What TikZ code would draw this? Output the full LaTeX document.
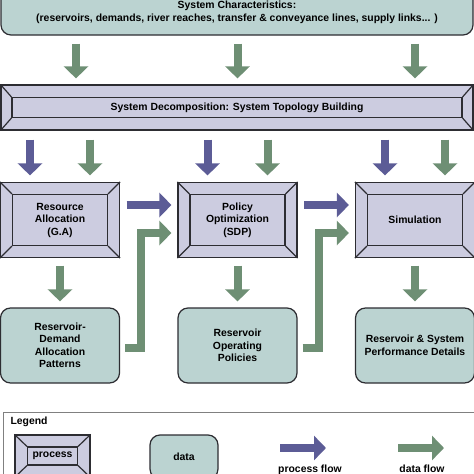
\documentclass[tikz,border=0pt]{standalone}
\usepackage{fontspec}
\setmainfont{Liberation Sans}
\usetikzlibrary{arrows.meta}
\definecolor{procfill}{RGB}{204,204,224}
\definecolor{datafill}{RGB}{187,211,209}
\definecolor{procarrow}{RGB}{92,92,150}
\definecolor{dataarrow}{RGB}{110,143,116}
\definecolor{edge}{RGB}{45,45,50}
\begin{document}
\begin{tikzpicture}[x=1pt, y=-1pt,
  font=\fontsize{10.4}{12.5}\selectfont\bfseries,
  outer/.style = {draw=edge, line width=1.2pt, fill=procfill, inner sep=0pt, minimum width=119pt, minimum height=75pt},
  inner/.style = {draw=edge, line width=1.2pt, fill=procfill, inner sep=0pt, align=center, minimum width=95pt, minimum height=51pt},
  data/.style = {draw=edge, line width=1.2pt, fill=datafill, rounded corners=10pt, inner sep=0pt, align=center, minimum width=119pt, minimum height=75pt},
  bevel/.style = {draw=edge, line width=1.2pt},
  pflow/.style = {draw=procarrow, line width=8pt, -{Triangle[width=24pt, length=12pt]}},
  dflow/.style = {draw=dataarrow, line width=8pt, -{Triangle[width=24pt, length=12pt]}}]
\useasboundingbox (0,0) rectangle (474,474);

% system characteristics
\node[data, minimum width=472pt, minimum height=46pt, font=\fontsize{10.4}{13}\selectfont\bfseries] (syschar) at (237,12)
  {System Characteristics:\\(reservoirs, demands, river reaches, transfer \& conveyance lines, supply links... )};

% decomposition bar
\node[outer, minimum width=472pt, minimum height=45pt] (decomp) at (237,107.5) {};
\node[inner, minimum width=450pt, minimum height=20pt] (decomp-in) at (decomp) {System Decomposition: System Topology Building};

% process boxes
\node[outer] (alloc) at (60,220) {};
\node[inner] (alloc-in) at (alloc) {Resource\\Allocation\\(G.A)};
\node[outer] (optim) at (237.5,220) {};
\node[inner] (optim-in) at (optim) {Policy\\Optimization\\(SDP)};
\node[outer] (sim) at (415,220) {};
\node[inner] (sim-in) at (sim) {Simulation};

% data boxes
\node[data] (allocres) at (60,345.5) {Reservoir-\\Demand\\Allocation\\Patterns};
\node[data] (optimres) at (237.5,345.5) {Reservoir\\Operating\\Policies};
\node[data] (simres) at (415,345.5) {Reservoir \& System\\Performance Details};

\foreach \n in {decomp,alloc,optim,sim}
  \foreach \c in {north west,north east,south west,south east}
    \draw[bevel] (\n.\c) -- (\n-in.\c);

% flows
\draw[dflow, shorten <=8pt, shorten >=6pt] ([xshift=16pt]syschar.south -| alloc) -- ([xshift=16pt]decomp.north -| alloc);
\draw[dflow, shorten <=8pt, shorten >=6pt] (syschar.south -| optim) -- (decomp.north -| optim);
\draw[dflow, shorten <=8pt, shorten >=6pt] (syschar.south -| sim) -- (decomp.north -| sim);
\foreach \n in {alloc,optim,sim}{
  \draw[pflow, shorten <=9pt, shorten >=6.5pt] ([xshift=-30pt]decomp.south -| \n) -- ([xshift=-30pt]\n.north);
  \draw[dflow, shorten <=9pt, shorten >=6.5pt] ([xshift=30pt]decomp.south -| \n) -- ([xshift=30pt]\n.north);
}
\draw[pflow, shorten <=6.5pt, shorten >=6pt] ([yshift=15pt]alloc.east) -- ([yshift=15pt]optim.west);
\draw[pflow, shorten <=6.5pt, shorten >=6pt] ([yshift=15pt]optim.east) -- ([yshift=15pt]sim.west);
\draw[dflow, shorten <=7.5pt, shorten >=6pt] (alloc.south) -- (allocres.north);
\draw[dflow, shorten <=7.5pt, shorten >=6pt] (optim.south) -- (optimres.north);
\draw[dflow, shorten <=7.5pt, shorten >=6pt] (sim.south) -- (simres.north);
\draw[dflow, shorten <=5pt, shorten >=6pt] ([yshift=-2.5pt]allocres.east) -- ++(21,0) |- ([yshift=-13pt]optim.west);
\draw[dflow, shorten <=5pt, shorten >=6pt] ([yshift=-2.5pt]optimres.east) -- ++(21,0) |- ([yshift=-13pt]sim.west);

% legend
\draw[gray, line width=1pt] (3,485) -- (3,412) -- (480,412);
\node[anchor=west] (legend) at (7,422) {Legend};
\node[outer, minimum width=75pt, minimum height=42pt] (lproc) at (52.5,456) {};
\node[inner, minimum width=50pt, minimum height=18pt] (lproc-in) at (lproc) {process};
\foreach \c in {north west,north east,south west,south east}
  \draw[bevel] (lproc.\c) -- (lproc-in.\c);
\node[data, minimum width=68pt, minimum height=44pt] (ldata) at (184,457) {data};
\node[anchor=base] (lpflow) at (310,472) {process flow};
\node[anchor=base] (ldflow) at (422,472) {data flow};
\coordinate (lp-a) at (280,448);
\coordinate (lp-b) at (326,448);
\coordinate (ld-a) at (398,448);
\coordinate (ld-b) at (444,448);
\draw[pflow] (lp-a) -- (lp-b);
\draw[dflow] (ld-a) -- (ld-b);
\end{tikzpicture}
\end{document}
